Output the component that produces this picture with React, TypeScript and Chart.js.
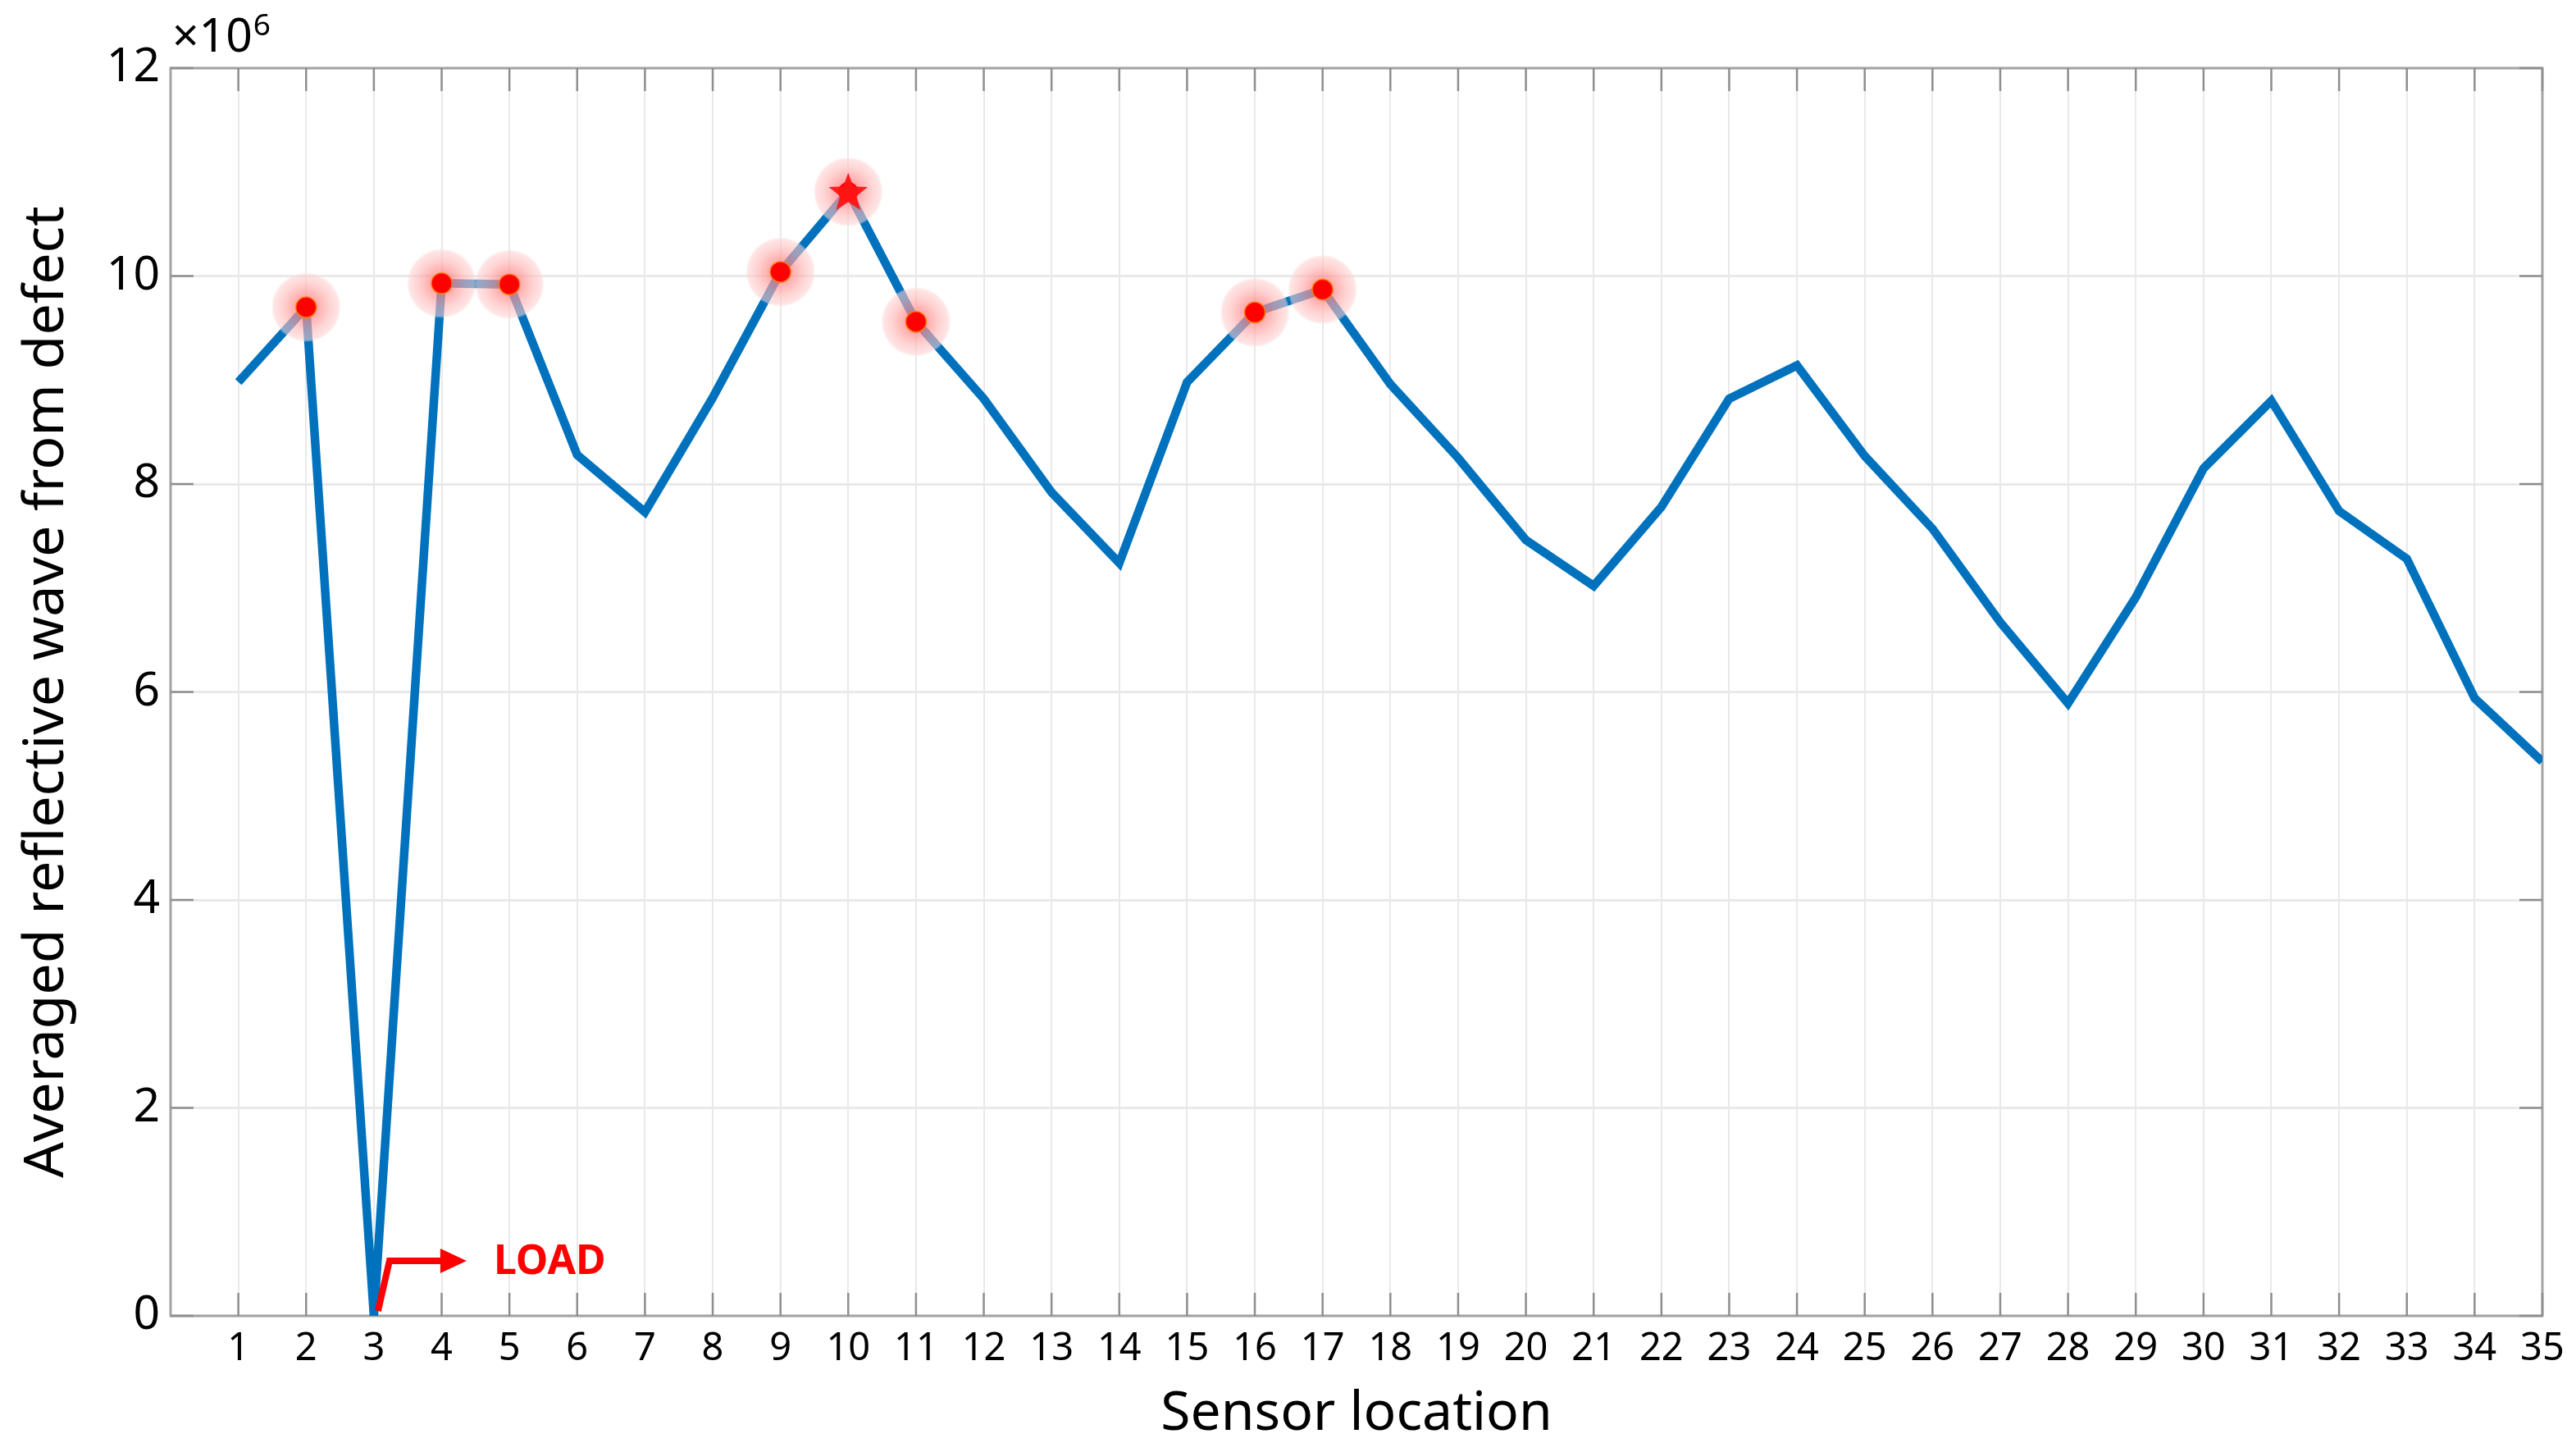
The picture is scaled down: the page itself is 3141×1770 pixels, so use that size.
import React, { useEffect, useRef } from "react";
import { Chart, registerables } from "chart.js";

Chart.register(...registerables);

// ---- data ----
const sensorLocations = [
  1, 2, 3, 4, 5, 6, 7, 8, 9, 10, 11, 12, 13, 14, 15, 16, 17, 18, 19, 20, 21, 22, 23, 24, 25, 26, 27, 28, 29, 30, 31, 32, 33, 34, 35,
];
// averaged reflective wave from defect, in units of 1e6
const reflectiveWave = [
  8.98, 9.7, 0.0, 9.93, 9.92, 8.28, 7.73, 8.83, 10.04, 10.81, 9.56, 8.82, 7.92, 7.24, 8.98, 9.65, 9.87, 8.96, 8.25, 7.46,
  7.02, 7.78, 8.82, 9.14, 8.27, 7.57, 6.67, 5.89, 6.91, 8.15, 8.8, 7.74, 7.28, 5.94, 5.33,
];
const highlightedSensors = [2, 4, 5, 9, 11, 16, 17];
const peakSensor = 10;
const loadSensor = 3;
const loadLabel = "LOAD";
const yTickValues = [0, 2, 4, 6, 8, 10, 12];
const yExponent = "6";
const xTitle = "Sensor location";
const yTitle = "Averaged reflective wave from defect";

const FONT = "'Noto Sans', 'Open Sans', sans-serif";
const LINE_BLUE = "#0072BD";

const valueAt = (s: number) => reflectiveWave[sensorLocations.indexOf(s)];

const decorPlugin = {
  id: "decor",
  beforeDatasetsDraw(chart: any) {
    const { ctx, chartArea, scales } = chart;
    const { left, right, top, bottom } = chartArea;
    const x = scales.x;
    const y = scales.y;
    ctx.save();
    ctx.strokeStyle = "#a3a3a3";
    ctx.lineWidth = 3;
    ctx.strokeRect(left, top, right - left, bottom - top);
    ctx.strokeStyle = "#8e8e8e";
    ctx.lineWidth = 2.5;
    const tl = 28;
    const seg = (x1: number, y1: number, x2: number, y2: number) => {
      ctx.beginPath();
      ctx.moveTo(x1, y1);
      ctx.lineTo(x2, y2);
      ctx.stroke();
    };
    for (const v of sensorLocations) {
      const px = x.getPixelForValue(v);
      seg(px, bottom, px, bottom - tl);
      seg(px, top, px, top + tl);
    }
    for (const v of yTickValues) {
      const py = y.getPixelForValue(v);
      seg(left, py, left + tl, py);
      seg(right, py, right - tl, py);
    }
    ctx.restore();
  },
  afterDatasetsDraw(chart: any) {
    const { ctx, scales } = chart;
    const x = scales.x;
    const y = scales.y;
    ctx.save();
    const marked = [...highlightedSensors, peakSensor];
    // glow halos (drawn over the line)
    for (const s of marked) {
      const px = x.getPixelForValue(s);
      const py = y.getPixelForValue(valueAt(s));
      const r = 42;
      const g = ctx.createRadialGradient(px, py, 0, px, py, r);
      g.addColorStop(0, "rgba(255,70,70,0.85)");
      g.addColorStop(0.35, "rgba(255,140,140,0.7)");
      g.addColorStop(0.7, "rgba(255,185,185,0.62)");
      g.addColorStop(0.94, "rgba(255,210,210,0.58)");
      g.addColorStop(1, "rgba(255,225,225,0.25)");
      ctx.fillStyle = g;
      ctx.beginPath();
      ctx.arc(px, py, r, 0, Math.PI * 2);
      ctx.fill();
    }
    // red dots
    for (const s of highlightedSensors) {
      const px = x.getPixelForValue(s);
      const py = y.getPixelForValue(valueAt(s));
      ctx.fillStyle = "#ff0000";
      ctx.strokeStyle = "rgba(255,130,0,0.85)";
      ctx.lineWidth = 1.5;
      ctx.beginPath();
      ctx.arc(px, py, 12.5, 0, Math.PI * 2);
      ctx.fill();
      ctx.stroke();
    }
    // star at the peak
    {
      const px = x.getPixelForValue(peakSensor);
      const py = y.getPixelForValue(valueAt(peakSensor));
      ctx.fillStyle = "#ff0000";
      ctx.beginPath();
      ctx.arc(px, py, 12, 0, Math.PI * 2);
      ctx.fill();
      const R = 25;
      const rIn = 10.5;
      ctx.beginPath();
      for (let i = 0; i < 10; i++) {
        const rad = i % 2 === 0 ? R : rIn;
        const a = -Math.PI / 2 + (i * Math.PI) / 5;
        const qx = px + rad * Math.cos(a);
        const qy = py + 2 + rad * Math.sin(a);
        if (i === 0) ctx.moveTo(qx, qy);
        else ctx.lineTo(qx, qy);
      }
      ctx.closePath();
      ctx.fillStyle = "rgba(255,20,20,0.95)";
      ctx.fill();
    }
    // LOAD annotation
    {
      const px0 = x.getPixelForValue(loadSensor);
      const py0 = y.getPixelForValue(0);
      ctx.strokeStyle = "#ff0000";
      ctx.fillStyle = "#ff0000";
      ctx.lineWidth = 8;
      ctx.lineJoin = "miter";
      ctx.lineCap = "butt";
      ctx.beginPath();
      ctx.moveTo(px0 + 5, py0 - 6);
      ctx.lineTo(px0 + 19, py0 - 67);
      ctx.lineTo(px0 + 84, py0 - 67);
      ctx.stroke();
      ctx.beginPath();
      ctx.moveTo(px0 + 81, py0 - 82);
      ctx.lineTo(px0 + 113, py0 - 67);
      ctx.lineTo(px0 + 81, py0 - 52);
      ctx.closePath();
      ctx.fill();
      ctx.font = `bold 50px ${FONT}`;
      ctx.textAlign = "left";
      ctx.textBaseline = "alphabetic";
      ctx.fillText(loadLabel, px0 + 146, py0 - 51);
    }
    ctx.restore();
  },
  afterDraw(chart: any) {
    const { ctx, chartArea } = chart;
    ctx.save();
    ctx.fillStyle = "#000";
    ctx.textAlign = "left";
    ctx.textBaseline = "alphabetic";
    ctx.font = `57px ${FONT}`;
    const base = "\u00d710";
    ctx.fillText(base, chartArea.left + 2, 63);
    const w = ctx.measureText(base).width;
    ctx.font = `37px ${FONT}`;
    ctx.fillText(yExponent, chartArea.left + 2 + w + 1, 43);
    ctx.restore();
  },
};

export default function App() {
  const canvasRef = useRef<HTMLCanvasElement | null>(null);

  useEffect(() => {
    const prevMargin = document.body.style.margin;
    document.body.style.margin = "0";
    const canvas = canvasRef.current;
    if (!canvas) return;
    const points = sensorLocations.map((s, i) => ({ x: s, y: reflectiveWave[i] }));
    const chart = new Chart(canvas, {
      type: "line",
      data: {
        datasets: [
          {
            data: points,
            borderColor: LINE_BLUE,
            borderWidth: 10.5,
            pointRadius: 0,
            tension: 0,
            fill: false,
            borderJoinStyle: "miter",
          } as any,
        ],
      },
      options: {
        animation: false,
        responsive: false,
        devicePixelRatio: 1,
        layout: { padding: { left: 0, right: 41, top: 83, bottom: 0 } },
        plugins: { legend: { display: false }, tooltip: { enabled: false } },
        scales: {
          x: {
            type: "linear",
            min: 0,
            max: 35,
            afterBuildTicks: (s: any) => {
              s.ticks = sensorLocations.map((v) => ({ value: v }));
            },
            afterFit: (s: any) => {
              s.height = 166;
            },
            ticks: {
              autoSkip: false,
              maxRotation: 0,
              minRotation: 0,
              padding: 12,
              color: "#000",
              font: { family: FONT, size: 47 },
              callback: (v: any) => String(v),
            },
            grid: { color: "#e9e9e9", lineWidth: 2, drawTicks: false },
            border: { display: false },
            title: {
              display: true,
              text: xTitle,
              color: "#000",
              font: { family: FONT, size: 66 },
              padding: { top: 0, bottom: 6 },
            },
          },
          y: {
            type: "linear",
            min: 0,
            max: 12,
            afterBuildTicks: (s: any) => {
              s.ticks = yTickValues.map((v) => ({ value: v }));
            },
            afterFit: (s: any) => {
              s.width = 208;
            },
            ticks: {
              padding: 13,
              color: "#000",
              font: { family: FONT, size: 57 },
              callback: (v: any) => String(v),
            },
            grid: { color: "#e9e9e9", lineWidth: 3, drawTicks: false },
            border: { display: false },
            title: {
              display: true,
              text: yTitle,
              color: "#000",
              font: { family: FONT, size: 68 },
              padding: { top: 17, bottom: 0 },
            },
          },
        },
      },
      plugins: [decorPlugin],
    } as any);
    return () => {
      chart.destroy();
      document.body.style.margin = prevMargin;
    };
  }, []);

  return (
    <div style={{ position: "relative", width: 3141, height: 1770, background: "#fff" }}>
      <canvas ref={canvasRef} width={3141} height={1770} style={{ width: 3141, height: 1770, display: "block" }} />
    </div>
  );
}
